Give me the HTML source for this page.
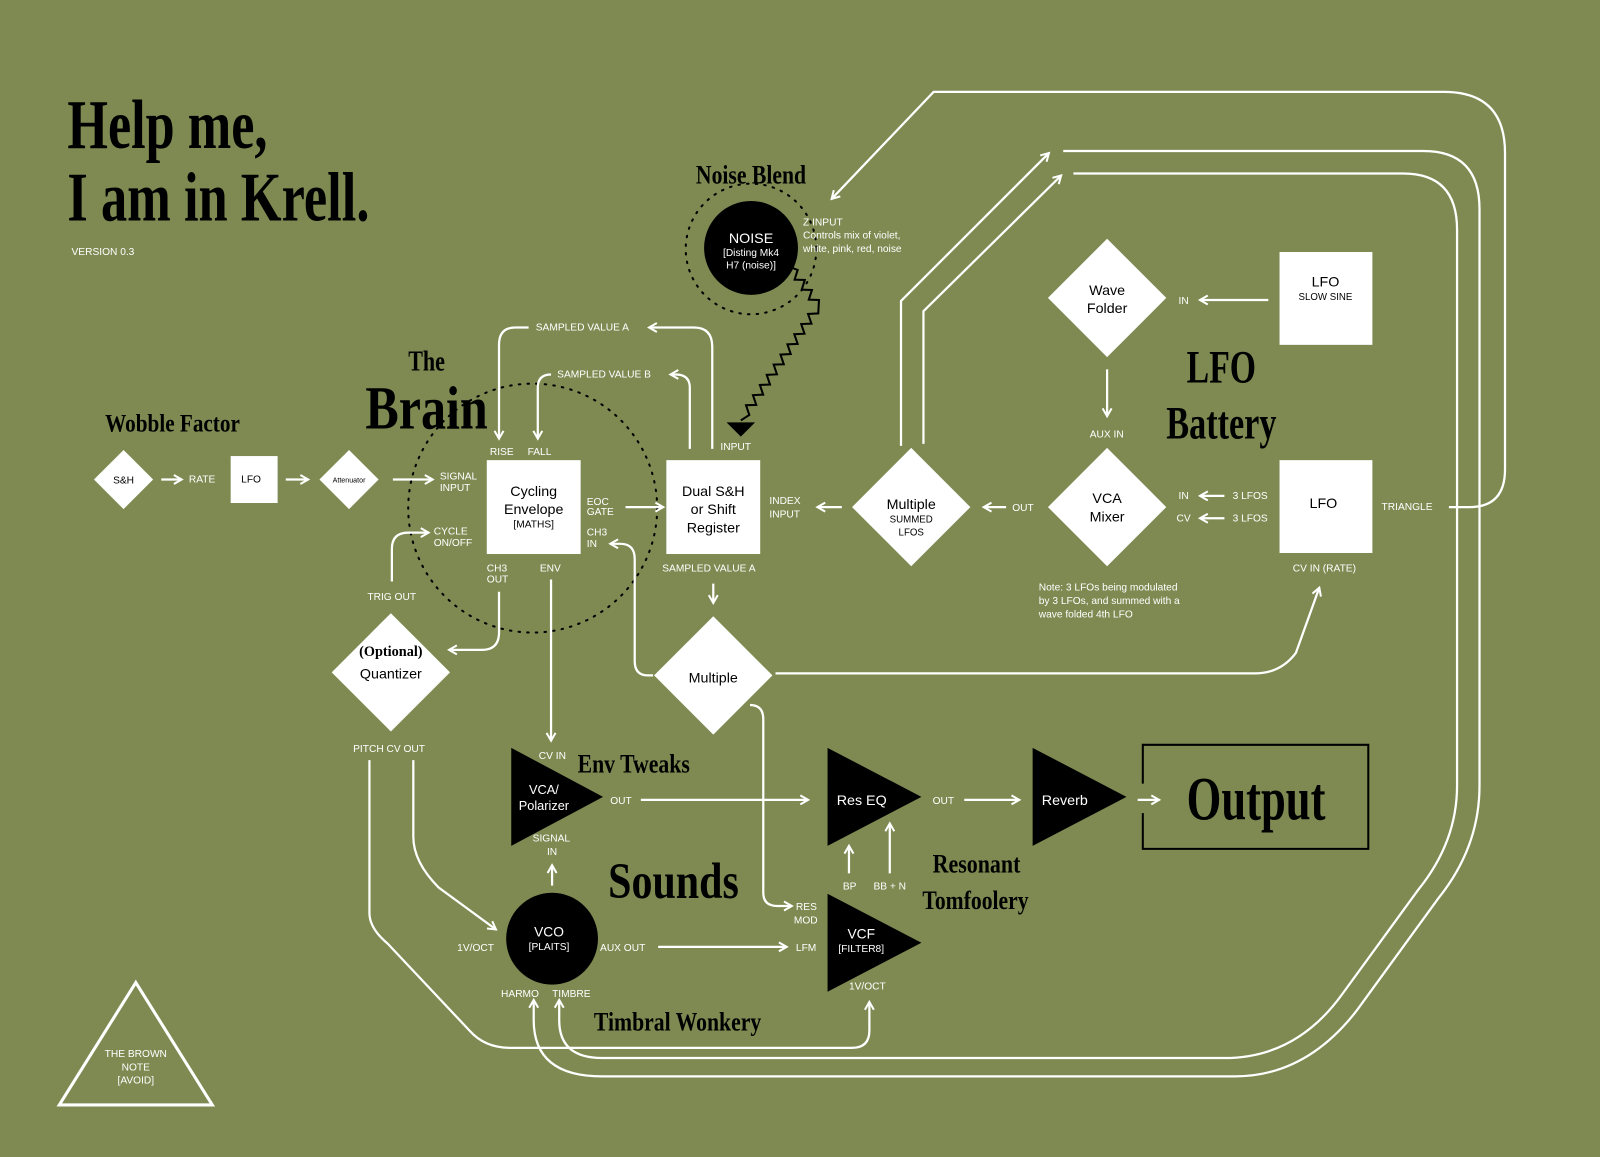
<!DOCTYPE html>
<html><head><meta charset="utf-8"><style>
html,body{margin:0;padding:0;background:#7e8a52;}
svg{display:block}
.t{font-family:"Liberation Sans",sans-serif;fill:#fff}
.t:not([font-size]){font-size:10px}
.b{font-family:"Liberation Sans",sans-serif;fill:#000}
.b:not([font-size]){font-size:14px}
.g{font-family:"Liberation Serif",serif;font-weight:bold;fill:#000}
.l{stroke:#fff;stroke-width:2.2;fill:none}
</style></head><body>
<svg width="1600" height="1157" viewBox="0 0 1568 1134" xmlns="http://www.w3.org/2000/svg">
<defs><marker id="a" viewBox="0 0 10 10" refX="8" refY="5" markerWidth="5" markerHeight="5" orient="auto"><path d="M1,1 L8,5 L1,9" fill="none" stroke="#fff" stroke-width="1.8"/></marker></defs>
<rect width="1568" height="1134" fill="#7e8a52"/>
<!-- title -->
<text class="g" x="66" y="145" font-size="68" textLength="196" lengthAdjust="spacingAndGlyphs">Help me,</text>
<text class="g" x="66" y="216" font-size="68" textLength="296" lengthAdjust="spacingAndGlyphs">I am in Krell.</text>
<text class="t" x="70" y="250" font-size="10">VERSION 0.3</text>
<!-- wobble -->
<text class="g" x="103" y="423" font-size="25" textLength="132" lengthAdjust="spacingAndGlyphs">Wobble Factor</text>
<polygon points="121,441 150,470 121,499 92,470" fill="#fff"/>
<text class="b" x="121" y="474" font-size="10" text-anchor="middle">S&amp;H</text>
<line class="l" x1="158" y1="470" x2="178" y2="470" marker-end="url(#a)"/>
<text class="t" x="185" y="473">RATE</text>
<rect x="226" y="447" width="46" height="46" fill="#fff"/>
<text class="b" x="246" y="473" font-size="10" text-anchor="middle">LFO</text>
<line class="l" x1="280" y1="470" x2="302" y2="470" marker-end="url(#a)"/>
<polygon points="342,441 371,470 342,499 313,470" fill="#fff"/>
<text class="b" x="342" y="473" font-size="7" text-anchor="middle">Attenuator</text>
<line class="l" x1="385" y1="470" x2="424" y2="470" marker-end="url(#a)"/>
<text class="t" x="431" y="470">SIGNAL</text><text class="t" x="431" y="481">INPUT</text>
<!-- brain -->
<text class="g" x="400" y="363" font-size="28" textLength="36" lengthAdjust="spacingAndGlyphs">The</text>
<text class="g" x="358" y="420" font-size="60" textLength="120" lengthAdjust="spacingAndGlyphs">Brain</text>
<circle cx="522" cy="498" r="122" fill="none" stroke="#000" stroke-width="2" stroke-dasharray="1.5 7" stroke-linecap="round"/>
<rect x="477" y="451" width="92" height="92" fill="#fff"/>
<text class="b" x="523" y="486" text-anchor="middle">Cycling</text>
<text class="b" x="523" y="504" text-anchor="middle">Envelope</text>
<text class="b" x="523" y="517" font-size="10" text-anchor="middle">[MATHS]</text>
<text class="t" x="480" y="446">RISE</text><text class="t" x="517" y="446">FALL</text>
<path class="l" d="M698,440 V340 Q698,321 680,321 H636" marker-end="url(#a)"/>
<text class="t" x="525" y="324">SAMPLED VALUE A</text>
<path class="l" d="M518,321 H505 Q489,321 489,338 V430" marker-end="url(#a)"/>
<path class="l" d="M676,440 V380 Q676,367 662,367 H657" marker-end="url(#a)"/>
<text class="t" x="546" y="370">SAMPLED VALUE B</text>
<path class="l" d="M540,367 Q527,367 527,380 V430" marker-end="url(#a)"/>
<rect x="653" y="451" width="92" height="92" fill="#fff"/>
<text class="b" x="699" y="486" text-anchor="middle">Dual S&amp;H</text>
<text class="b" x="699" y="504" text-anchor="middle">or Shift</text>
<text class="b" x="699" y="522" text-anchor="middle">Register</text>
<text class="t" x="575" y="495">EOC</text><text class="t" x="575" y="505">GATE</text>
<line class="l" x1="613" y1="497" x2="650" y2="497" marker-end="url(#a)"/>
<text class="t" x="575" y="525">CH3</text><text class="t" x="575" y="536">IN</text>
<path class="l" d="M640,662 H635 Q622,662 622,648 V548 Q622,533 608,533 H598" marker-end="url(#a)"/>
<text class="t" x="706" y="441">INPUT</text>
<text class="t" x="754" y="494">INDEX</text><text class="t" x="754" y="507">INPUT</text>
<line class="l" x1="825" y1="497" x2="801" y2="497" marker-end="url(#a)"/>
<text class="t" x="649" y="560">SAMPLED VALUE A</text>
<line class="l" x1="699" y1="572" x2="699" y2="591" marker-end="url(#a)"/>
<text class="t" x="477" y="560">CH3</text><text class="t" x="477" y="571">OUT</text>
<text class="t" x="529" y="560">ENV</text>
<path class="l" d="M489,580 V620 Q489,637 472,637 H440" marker-end="url(#a)"/>
<line class="l" x1="540" y1="568" x2="540" y2="726" marker-end="url(#a)"/>
<text class="t" x="425" y="524">CYCLE</text><text class="t" x="425" y="535">ON/OFF</text>
<path class="l" d="M384,570 V538 Q384,522 400,522 H420" marker-end="url(#a)"/>
<text class="t" x="360" y="588">TRIG OUT</text>
<!-- quantizer -->
<polygon points="383,601 441,659 383,717 325,659" fill="#fff"/>
<text class="g" x="383" y="643" font-size="14" text-anchor="middle">(Optional)</text>
<text class="b" x="383" y="665" text-anchor="middle">Quantizer</text>
<text class="t" x="346" y="737">PITCH CV OUT</text>
<path class="l" d="M362,745 V895 Q362,910 380,925 L460,1010 Q475,1027 500,1027 H835 Q852,1027 852,1010 V982" marker-end="url(#a)"/>
<path class="l" d="M405,745 V820 Q405,845 430,870 L486,911" marker-end="url(#a)"/>
<!-- multiple -->
<polygon points="699,604 757,662 699,720 641,662" fill="#fff"/>
<text class="b" x="699" y="669" text-anchor="middle">Multiple</text>
<path class="l" d="M760,660 H1230 Q1255,660 1270,640 L1293,576" marker-end="url(#a)"/>
<path class="l" d="M735,691 Q748,691 748,705 V875 Q748,888 762,888 H776" marker-end="url(#a)"/>
<!-- noise -->
<text class="g" x="682" y="180" font-size="26" textLength="108" lengthAdjust="spacingAndGlyphs">Noise Blend</text>
<circle cx="736" cy="244" r="64" fill="none" stroke="#000" stroke-width="2" stroke-dasharray="1.5 7" stroke-linecap="round"/>
<circle cx="736" cy="243" r="46" fill="#000"/>
<text class="t" x="736" y="238" font-size="14" text-anchor="middle">NOISE</text>
<text class="t" x="736" y="251" font-size="10" text-anchor="middle">[Disting Mk4</text>
<text class="t" x="736" y="263" font-size="10" text-anchor="middle">H7 (noise)]</text>
<text class="t" x="787" y="221">Z INPUT</text>
<text class="t" x="787" y="234">Controls mix of violet,</text>
<text class="t" x="787" y="247">white, pink, red,  noise</text>
<polyline fill="none" stroke="#000" stroke-width="2" points="775,262 781.7,264.6 778.7,274.1 788.7,274.4 785.7,283.9 795.7,284.2 792.6,293.7 802.6,294 801.9,307.2 791.9,307.7 795.2,317.2 785.2,317.6 788.4,327.1 778.4,327.6 781.7,337.1 771.7,337.5 774.9,347 764.9,347.5 768.1,357 758.2,357.4 761.4,366.9 751.4,367.4 754.6,376.9 744.7,377.3 747.9,386.8 737.9,387.3 741.1,396.8 731.1,397.2 734.3,406.7 726,412"/>
<polygon points="712,414 740,414 726,428" fill="#000"/>
<!-- right loops -->
<path class="l" d="M1420,497 H1440 Q1475,497 1475,460 V150 Q1475,90 1415,90 H915 L815,195" marker-end="url(#a)"/>
<path class="l" d="M883,437 V295 L1028,150" marker-end="url(#a)"/>
<path class="l" d="M905,435 V305 L1040,172" marker-end="url(#a)"/>
<path class="l" d="M1042,148 H1395 Q1450,148 1450,205 V770 Q1450,830 1410,880 L1330,990 Q1280,1055 1210,1055 H590 Q523,1055 523,1000 V980" marker-end="url(#a)"/>
<path class="l" d="M1052,170 H1375 Q1428,170 1428,225 V770 Q1428,825 1390,872 L1315,975 Q1270,1037 1200,1037 H590 Q548,1037 548,1000 V980" marker-end="url(#a)"/>
<!-- multiple summed -->
<polygon points="893,439 951,497 893,555 835,497" fill="#fff"/>
<text class="b" x="893" y="499" text-anchor="middle">Multiple</text>
<text class="b" x="893" y="512" font-size="9.5" text-anchor="middle">SUMMED</text>
<text class="b" x="893" y="525" font-size="9.5" text-anchor="middle">LFOS</text>
<text class="t" x="992" y="501">OUT</text>
<line class="l" x1="986" y1="497" x2="964" y2="497" marker-end="url(#a)"/>
<polygon points="1085,439 1143,497 1085,555 1027,497" fill="#fff"/>
<text class="b" x="1085" y="493" text-anchor="middle">VCA</text>
<text class="b" x="1085" y="511" text-anchor="middle">Mixer</text>
<text class="t" x="1155" y="489">IN</text><text class="t" x="1153" y="511">CV</text>
<line class="l" x1="1200" y1="486" x2="1176" y2="486" marker-end="url(#a)"/>
<line class="l" x1="1200" y1="508" x2="1176" y2="508" marker-end="url(#a)"/>
<text class="t" x="1208" y="489">3 LFOS</text><text class="t" x="1208" y="511">3 LFOS</text>
<rect x="1254" y="451" width="91" height="91" fill="#fff"/>
<text class="b" x="1297" y="498" text-anchor="middle">LFO</text>
<text class="t" x="1354" y="500">TRIANGLE</text>
<text class="t" x="1267" y="560">CV IN (RATE)</text>
<polygon points="1085,234 1143,292 1085,350 1027,292" fill="#fff"/>
<text class="b" x="1085" y="289" text-anchor="middle">Wave</text>
<text class="b" x="1085" y="307" text-anchor="middle">Folder</text>
<text class="t" x="1155" y="298">IN</text>
<line class="l" x1="1243" y1="294" x2="1176" y2="294" marker-end="url(#a)"/>
<rect x="1254" y="247" width="91" height="91" fill="#fff"/>
<text class="b" x="1299" y="281" text-anchor="middle">LFO</text>
<text class="b" x="1299" y="294" font-size="9.5" text-anchor="middle">SLOW SINE</text>
<line class="l" x1="1085" y1="362" x2="1085" y2="408" marker-end="url(#a)"/>
<text class="t" x="1068" y="429">AUX IN</text>
<text class="g" x="1163" y="375" font-size="46" textLength="68" lengthAdjust="spacingAndGlyphs">LFO</text>
<text class="g" x="1143" y="430" font-size="46" textLength="108" lengthAdjust="spacingAndGlyphs">Battery</text>
<text class="t" x="1018" y="579">Note: 3 LFOs being modulated</text>
<text class="t" x="1018" y="592">by 3 LFOs, and summed with a</text>
<text class="t" x="1018" y="605">wave folded 4th LFO</text>
<!-- VCA polarizer -->
<polygon points="501,733 501,829 591,781" fill="#000"/>
<text class="t" x="533" y="778" font-size="12.5" text-anchor="middle">VCA/</text>
<text class="t" x="533" y="794" font-size="12.5" text-anchor="middle">Polarizer</text>
<text class="t" x="528" y="744">CV IN</text>
<text class="g" x="566" y="757" font-size="26" textLength="110" lengthAdjust="spacingAndGlyphs">Env Tweaks</text>
<text class="t" x="598" y="788">OUT</text>
<line class="l" x1="628" y1="784" x2="792" y2="784" marker-end="url(#a)"/>
<text class="t" x="522" y="825">SIGNAL</text><text class="t" x="536" y="838">IN</text>
<line class="l" x1="541" y1="868" x2="541" y2="848" marker-end="url(#a)"/>
<!-- VCO -->
<circle cx="541" cy="920" r="45" fill="#000"/>
<text class="t" x="538" y="918" font-size="13.5" text-anchor="middle">VCO</text>
<text class="t" x="538" y="931" text-anchor="middle">[PLAITS]</text>
<text class="t" x="448" y="932">1V/OCT</text>
<text class="t" x="588" y="932">AUX OUT</text>
<line class="l" x1="645" y1="928" x2="771" y2="928" marker-end="url(#a)"/>
<text class="t" x="780" y="932">LFM</text>
<text class="t" x="491" y="977">HARMO</text><text class="t" x="541" y="977">TIMBRE</text>
<text class="g" x="596" y="880" font-size="50" textLength="128" lengthAdjust="spacingAndGlyphs">Sounds</text>
<text class="g" x="582" y="1010" font-size="26" textLength="164" lengthAdjust="spacingAndGlyphs">Timbral Wonkery</text>
<!-- Res EQ -->
<polygon points="811,733 811,829 903,781" fill="#000"/>
<text class="t" x="820" y="789" font-size="14">Res EQ</text>
<text class="t" x="914" y="788">OUT</text>
<line class="l" x1="945" y1="784" x2="999" y2="784" marker-end="url(#a)"/>
<text class="t" x="826" y="872">BP</text><text class="t" x="856" y="872">BB + N</text>
<line class="l" x1="832" y1="856" x2="832" y2="829" marker-end="url(#a)"/>
<line class="l" x1="872" y1="856" x2="872" y2="807" marker-end="url(#a)"/>
<polygon points="1012,733 1012,829 1104,781" fill="#000"/>
<text class="t" x="1021" y="789" font-size="14">Reverb</text>
<line class="l" x1="1115" y1="784" x2="1136" y2="784" marker-end="url(#a)"/>
<path d="M1120,768 V730 H1341 V832 H1120 V797" fill="none" stroke="#000" stroke-width="2"/>
<text class="g" x="1163" y="803" font-size="60" textLength="136" lengthAdjust="spacingAndGlyphs">Output</text>
<!-- VCF -->
<polygon points="811,876 811,972 903,924" fill="#000"/>
<text class="t" x="844" y="920" font-size="13.5" text-anchor="middle">VCF</text>
<text class="t" x="844" y="933" text-anchor="middle">[FILTER8]</text>
<text class="t" x="780" y="892">RES</text><text class="t" x="778" y="905">MOD</text>
<text class="t" x="832" y="970">1V/OCT</text>
<text class="g" x="914" y="855" font-size="26" textLength="86" lengthAdjust="spacingAndGlyphs">Resonant</text>
<text class="g" x="904" y="891" font-size="26" textLength="104" lengthAdjust="spacingAndGlyphs">Tomfoolery</text>
<!-- brown note -->
<polygon points="133,963 58,1083 208,1083" fill="none" stroke="#fff" stroke-width="3"/>
<text class="t" x="133" y="1036" text-anchor="middle">THE BROWN</text>
<text class="t" x="133" y="1049" text-anchor="middle">NOTE</text>
<text class="t" x="133" y="1062" text-anchor="middle">[AVOID]</text>
</svg>
</body></html>
